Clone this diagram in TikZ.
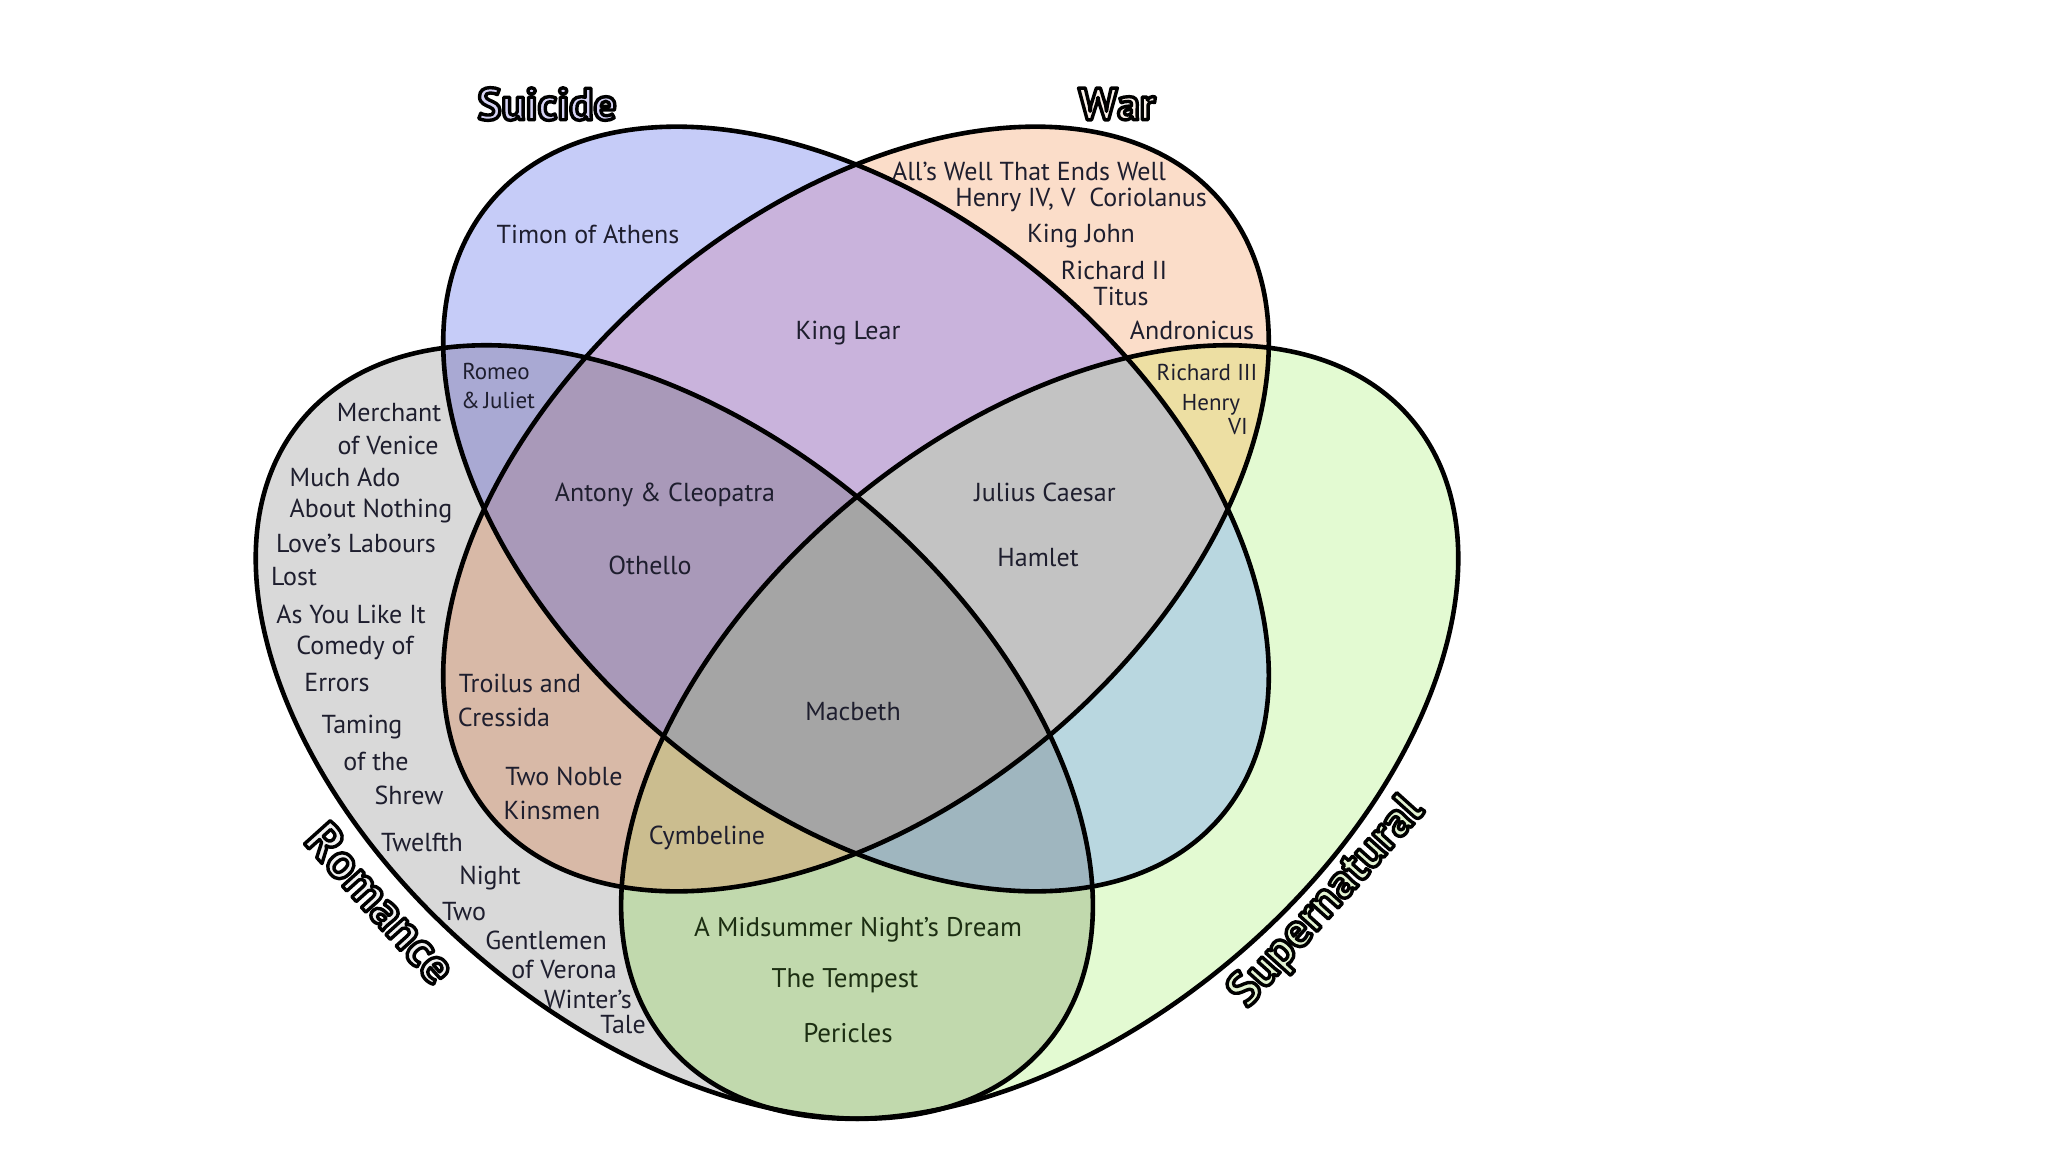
\documentclass[tikz,border=0pt]{standalone}
\usepackage{fontspec}
\setmainfont{PT Sans}
\definecolor{cSu}{HTML}{C6CCF8}
\definecolor{cW}{HTML}{FBDDC9}
\definecolor{cR}{HTML}{D9D9D9}
\definecolor{cN}{HTML}{E3FAD2}
\definecolor{cSuW}{HTML}{C9B3DC}
\definecolor{cSuR}{HTML}{A9A9D3}
\definecolor{cSuN}{HTML}{B9D7E0}
\definecolor{cWR}{HTML}{D8B9A7}
\definecolor{cWN}{HTML}{EDDFA3}
\definecolor{cRN}{HTML}{C1D9AD}
\definecolor{cSuWR}{HTML}{A999B9}
\definecolor{cSuWN}{HTML}{C3C3C3}
\definecolor{cSuRN}{HTML}{9FB6BF}
\definecolor{cWRN}{HTML}{CBBD8F}
\definecolor{cAll}{HTML}{A5A5A5}
\definecolor{txt}{HTML}{1E1E2E}
\definecolor{txtg}{HTML}{1C2E12}
\definecolor{tSu}{HTML}{D6D3F5}
\definecolor{tW}{HTML}{FBF1EA}
\definecolor{tR}{HTML}{F0F0F0}
\definecolor{tN}{HTML}{E2F2D2}
\newcommand\PSu[1]{\path[#1,rotate around={-40:(cS)}] (cS) ellipse [x radius=477.3, y radius=297.8];}
\newcommand\PW[1]{\path[#1,rotate around={40:(cS)}] (cS) ellipse [x radius=477.3, y radius=297.8];}
\newcommand\PR[1]{\path[#1,rotate around={-40:(cR)}] (cR) ellipse [x radius=485.8, y radius=297.8];}
\newcommand\PN[1]{\path[#1,rotate around={40:(cN)}] (cN) ellipse [x radius=485.8, y radius=297.8];}
\newcommand\ttl[6]{%
  \node[rotate=#3, font=\fontsize{#6}{#6}\selectfont\bfseries\addfontfeatures{Kerning=Off}, inner sep=0pt] (#1) at #2
  {\color{#4}\special{pdf:literal direct 0 0 0 RG 1.7 w 1 j 2 Tr}#5\special{pdf:literal direct 0 Tr}};}
\begin{document}
\begin{tikzpicture}[x=0.5pt,y=-0.5pt,
  lbl/.style={font=\fontsize{13}{15}\selectfont, text=txt, inner sep=0pt},
  sml/.style={font=\fontsize{11.5}{13}\selectfont, text=txt, inner sep=0pt},
  grn/.style={font=\fontsize{13.5}{15}\selectfont, text=txtg, inner sep=0pt},
  outline/.style={draw=black, line width=2.3pt}]
\useasboundingbox (0,0) rectangle (2048,1152);
\fill[white] (0,0) rectangle (2048,1152);
\coordinate (cS) at (856,509);
\coordinate (cR) at (674.3,732);
\coordinate (cN) at (1039.7,732);
% singles
\PSu{fill=cSu}
\PW{fill=cW}
\PR{fill=cR}
\PN{fill=cN}
% pairs
\begin{scope}\PSu{clip}\PW{fill=cSuW}\end{scope}
\begin{scope}\PSu{clip}\PR{fill=cSuR}\end{scope}
\begin{scope}\PSu{clip}\PN{fill=cSuN}\end{scope}
\begin{scope}\PW{clip}\PR{fill=cWR}\end{scope}
\begin{scope}\PW{clip}\PN{fill=cWN}\end{scope}
\begin{scope}\PR{clip}\PN{fill=cRN}\end{scope}
% triples
\begin{scope}\PSu{clip}\PW{clip}\PR{fill=cSuWR}\end{scope}
\begin{scope}\PSu{clip}\PW{clip}\PN{fill=cSuWN}\end{scope}
\begin{scope}\PSu{clip}\PR{clip}\PN{fill=cSuRN}\end{scope}
\begin{scope}\PW{clip}\PR{clip}\PN{fill=cWRN}\end{scope}
% all
\begin{scope}\PSu{clip}\PW{clip}\PR{clip}\PN{fill=cAll}\end{scope}
% outlines
\PSu{outline}
\PW{outline}
\PR{outline}
\PN{outline}
% labels
\node[lbl] (timon) at (588,234) {Timon of Athens};
\node[lbl] (lear) at (848,333) {King Lear};
\node[lbl] (alls) at (1029,171) {All’s Well That Ends Well};
\node[lbl] (henry) at (1081,200) {Henry IV, V\ \ Coriolanus};
\node[lbl] (john) at (1081,236) {King John};
\node[lbl] (rich2) at (1114,270) {Richard II};
\node[lbl] (titus) at (1121,296) {Titus};
\node[lbl] (andr) at (1192,330) {Andronicus};
\node[sml] (rich3) at (1207,372) {Richard III};
\node[sml] (henry6) at (1211,405) {Henry};
\node[sml] (vi) at (1238,427) {VI};
\node[sml] (romeo) at (496,371) {Romeo};
\node[sml] (juliet) at (498,400) {\&\,Juliet};
\node[lbl] (merch) at (389,413) {Merchant};
\node[lbl] (venice) at (388,445) {of Venice};
\node[lbl] (much) at (345,477) {Much Ado};
\node[lbl] (about) at (371,511) {About Nothing};
\node[lbl] (loves) at (356,543) {Love’s Labours};
\node[lbl] (lost) at (294,577) {Lost};
\node[lbl] (asyou) at (351,614) {As You Like It};
\node[lbl] (comedy) at (355,648) {Comedy of};
\node[lbl] (errors) at (337,683) {Errors};
\node[lbl] (taming) at (362,727) {Taming};
\node[lbl] (ofthe) at (376,761) {of the};
\node[lbl] (shrew) at (409,795) {Shrew};
\node[lbl] (twelfth) at (422,842) {Twelfth};
\node[lbl] (night) at (490,878) {Night};
\node[lbl] (two) at (464,912) {Two};
\node[lbl] (gent) at (546,940) {Gentlemen};
\node[lbl] (verona) at (564,969) {of Verona};
\node[lbl] (winter) at (588,999) {Winter’s};
\node[lbl] (tale) at (623,1025) {Tale};
\node[lbl] (antony) at (665,495) {Antony \& Cleopatra};
\node[lbl] (othello) at (650,565) {Othello};
\node[lbl] (julius) at (1045,492) {Julius Caesar};
\node[lbl] (hamlet) at (1038,558) {Hamlet};
\node[lbl] (troilus) at (520,683) {Troilus and};
\node[lbl] (cress) at (504,717) {Cressida};
\node[lbl] (twonoble) at (564,776) {Two Noble};
\node[lbl] (kinsmen) at (552,810) {Kinsmen};
\node[lbl] (macbeth) at (853,712) {Macbeth};
\node[lbl] (cymb) at (707,838) {Cymbeline};
\node[grn] (midsum) at (858,930) {A Midsummer Night’s Dream};
\node[grn] (tempest) at (845,981) {The Tempest};
\node[grn] (pericles) at (848,1033) {Pericles};
% titles
\ttl{tsuicide}{(547,104)}{0}{tSu}{Suicide}{22.5}
\ttl{twar}{(1117,104)}{0}{tW}{War}{22.5}
\ttl{tromance}{(381,903)}{-48}{tR}{Romance}{25}
\ttl{tsuper}{(1327,902)}{48}{tN}{Supernatural}{24}
\end{tikzpicture}
\end{document}
